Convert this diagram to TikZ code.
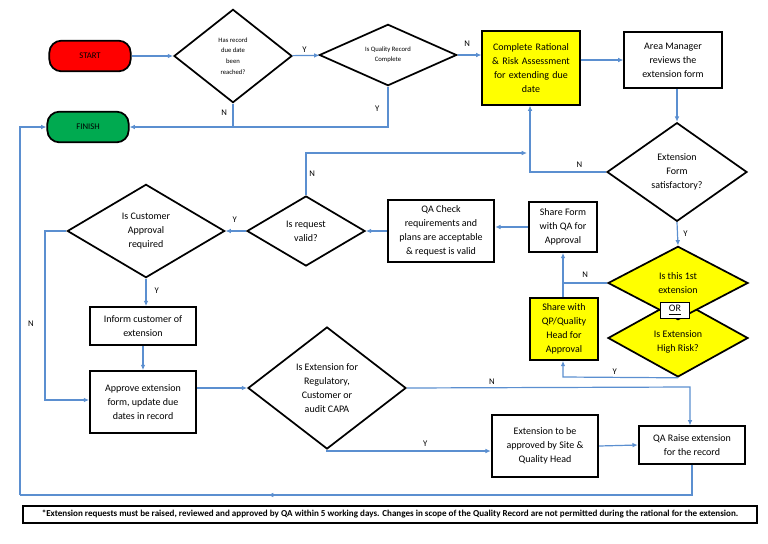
\documentclass[tikz,border=0pt]{standalone}
\usepackage{fontspec}
\setmainfont{Carlito}
\usetikzlibrary{shapes.geometric,arrows.meta}
\definecolor{ln}{HTML}{5B8FD0}
\definecolor{yel}{HTML}{FFFF00}
\begin{document}
\begin{tikzpicture}[x=0.75pt,y=-0.75pt,
  box/.style={draw=black,line width=1.3pt,align=center,font=\fontsize{7.5}{10.5}\selectfont,inner sep=1pt},
  dia/.style={diamond,draw=black,line width=1.3pt,align=center,inner sep=0pt,font=\fontsize{7.5}{10.5}\selectfont},
  term/.style={draw=black,line width=1.3pt,rounded corners=9pt,font=\fontsize{6.5}{8}\selectfont,minimum width=61pt,minimum height=23pt},
  conn/.style={draw=ln,line width=0.9pt},
  arr/.style={conn,-{Latex[length=4pt,width=3.5pt]}},
  lab/.style={font=\fontsize{6.5}{8}\selectfont,inner sep=0pt}]
\useasboundingbox (0,0) rectangle (768,543);
% terminals
\node[term,fill=red] (start) at (90,56) {START};
\node[term,fill={rgb,255:red,0;green,170;blue,80}] (finish) at (88,127) {FINISH};
% diamonds
\node[dia,minimum width=88.5pt,minimum height=70pt,font=\fontsize{5}{8}\selectfont] (d1) at (233,56) {Has record\\due date\\been\\reached?};
\node[dia,minimum width=103pt,minimum height=45pt,font=\fontsize{5}{7.5}\selectfont] (d2) at (388,55) {Is Quality Record\\Complete};
\node[dia,minimum width=105pt,minimum height=74pt] (d3) at (677,172) {Extension\\Form\\satisfactory?};
\node[dia,fill=yel,minimum width=105pt,minimum height=58pt] (d5) at (678,338) {\\Is Extension\\High Risk?};
\node[dia,fill=yel,minimum width=105pt,minimum height=55pt] (d4) at (678,283) {Is this 1st\\extension};
\node[draw=black,fill=white,line width=0.6pt,font=\fontsize{7.5}{9}\selectfont,minimum width=22pt,minimum height=12pt,inner sep=1pt] (or) at (675,310) {\underline{OR}};
\node[dia,minimum width=88.5pt,minimum height=52.5pt] (d6) at (306,231) {Is request\\valid?};
\node[dia,minimum width=118pt,minimum height=70pt] (d7) at (146,231) {Is Customer\\Approval\\required};
\node[dia,minimum width=118.5pt,minimum height=91.5pt] (d8) at (327,388) {Is Extension for\\Regulatory,\\Customer or\\audit CAPA};
% boxes
\node[box,fill=yel,minimum width=73pt,minimum height=55pt,text width=70pt] (ra) at (531,68) {Complete Rational\\\& Risk Assessment\\for extending due\\date};
\node[box,minimum width=73pt,minimum height=42pt] (am) at (673,60) {Area Manager\\reviews the\\extension form};
\node[box,minimum width=51pt,minimum height=37.5pt] (sf) at (563,227) {Share Form\\with QA for\\Approval};
\node[box,fill=yel,minimum width=51pt,minimum height=46.5pt] (qp) at (564,329) {Share with\\QP/Quality\\Head for\\Approval};
\node[box,minimum width=80pt,minimum height=47pt] (qc) at (441,231) {QA Check\\requirements and\\plans are acceptable\\\& request is valid};
\node[box,minimum width=80pt,minimum height=28.5pt] (inf) at (143,326) {Inform customer of\\extension};
\node[box,minimum width=79.5pt,minimum height=46.5pt] (ap) at (143,402) {Approve extension\\form, update due\\dates in record};
\node[box,minimum width=80pt,minimum height=47pt] (ext) at (545,446) {Extension to be\\approved by Site \&\\Quality Head};
\node[box,minimum width=80pt,minimum height=28pt] (qr) at (692,445) {QA Raise extension\\for the record};
\node[draw=black,line width=0.8pt,minimum width=550.5pt,minimum height=12.75pt,inner sep=0pt,font=\bfseries\fontsize{6.8}{8}\selectfont] (fn) at (390,514.5) {*Extension requests must be raised, reviewed and approved by QA within 5 working days. Changes in scope of the Quality Record are not permitted during the rational for the extension.};
% coordinates
\coordinate (j1) at (233,127);
\coordinate (lb) at (20,495);
% connectors
\draw[arr] (start) -- (d1);
\draw[arr] (d1) -- node[lab,above=2pt,pos=0.45]{Y} (d2);
\draw[arr] (d2.east) -- node[lab,above=6pt,pos=0.4]{N} (ra.west|-d2.east);
\draw[arr] (d1.south) -- node[lab,left=4pt,pos=0.4]{N} (j1) -- (finish);
\draw[conn] (d2.south) -- node[lab,left=6pt,pos=0.55]{Y} (d2.south|-j1) -- (j1);
\draw[arr] (ra.east|-am.west) -- (am.west);
\draw[arr] (am.south-|d3.north) -- (d3.north);
\draw[arr] (d3.west) -- node[lab,above=3pt,pos=0.35]{N} (530,172) -- (ra.south-|530,0);
\draw[arr] (d6.north) -- node[lab,right=2pt,pos=0.5]{N} (306,153) -- (527,153);
\draw[arr] (d3.south) -- node[lab,right=4pt,pos=0.5]{Y} (d4.north);
\draw[conn] (d4.west) -- node[lab,above=4pt,pos=0.5]{N} (563,283);
\draw[arr] (qp.north-|563,0) -- (sf.south-|563,0);
\draw[arr] (d5.south) -- node[lab,above=2pt,pos=0.55]{Y} (563,377) -- (qp.south-|563,0);
\draw[arr] (sf.west) -- (qc.east|-sf.west);
\draw[arr] (qc.west) -- (d6.east);
\draw[arr] (d6.west) -- node[lab,above=6pt,pos=0.55]{Y} (d7.east);
\draw[arr] (d7.south) -- node[lab,right=6pt,pos=0.45]{Y} (inf.north-|d7.south);
\draw[arr] (inf.south) -- (ap.north);
\draw[arr] (d7.west) -- (45,231) -- node[lab,left=8pt,pos=0.55]{N} (45,400) -- (ap.west|-45,400);
\draw[arr] (ap.east|-d8.west) -- (d8.west);
\draw[arr] (d8.east) -- node[lab,above=2pt,pos=0.3]{N} (690,387) -- (qr.north-|690,0);
\draw[arr] (d8.south) -- (327,451) -- node[lab,above=3pt,pos=0.6]{Y} (ext.west|-327,451);
\draw[arr] (ext.east) -- (qr.west);
\draw[conn] (qr.south) -- (692,495) -- (lb);
\draw[arr] (692,495) -- (268,495);
\draw[arr] (lb) -- (20,127) -- (finish.west);
\end{tikzpicture}
\end{document}
